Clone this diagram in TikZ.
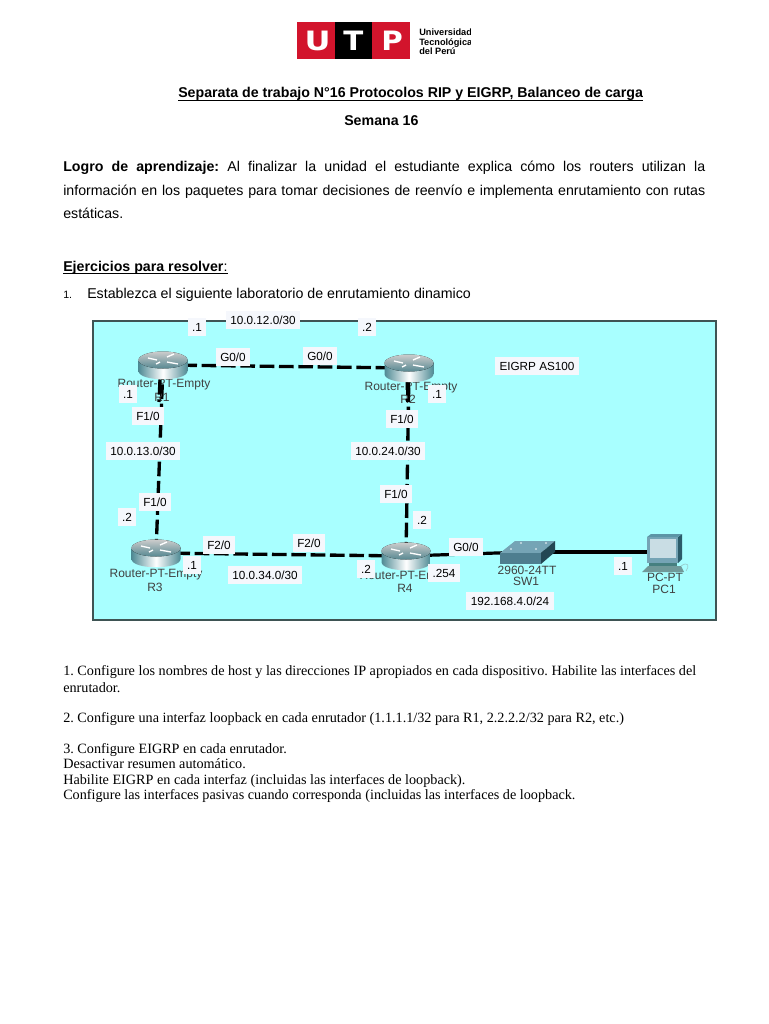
\documentclass[tikz,border=0pt]{standalone}
\usepackage{fontspec}
\setmainfont{Liberation Sans}
\newfontfamily\serifface{Liberation Serif}
\newfontfamily\logoface{DejaVu Sans}
\usetikzlibrary{calc}
\frenchspacing
\definecolor{utpred}{HTML}{D2142C}
\definecolor{aquabg}{HTML}{A8FFFF}
\definecolor{labelbg}{HTML}{F5F7FC}
\definecolor{frame}{HTML}{3E5454}
\definecolor{pcteal}{HTML}{3F8296}
\definecolor{swteal}{HTML}{5C94A8}
\definecolor{routeredge}{HTML}{4F8A94}
\definecolor{pcscreen}{HTML}{C9DDE4}
\tikzset{
 x=0.75pt,y=-0.75pt,
 doctext/.style={anchor=base west,inner sep=0pt,font=\fontsize{10.65}{12}\selectfont},
 boldtext/.style={doctext,font=\bfseries\fontsize{10.65}{12}\selectfont},
 logotext/.style={doctext,font=\bfseries\fontsize{6.9}{8}\selectfont},
 logoletter/.style={text=white,inner sep=0pt,font=\logoface\bfseries\fontsize{20}{20}\selectfont},
 serifline/.style={anchor=base west,inner sep=0pt,font=\serifface\fontsize{10.65}{12}\selectfont},
 netlabel/.style={fill=labelbg,inner sep=0pt,minimum height=13.5pt,minimum width=13.5pt,text depth=0pt,font=\fontsize{8.8}{10}\selectfont,inner xsep=3.3pt},
 devname/.style={inner sep=0pt,text=black!75,font=\fontsize{9}{10}\selectfont},
 dashedlink/.style={line width=2.5pt,black,dash pattern=on 11pt off 3.5pt},
 solidlink/.style={line width=2.4pt,black},
 rulemark/.style={line width=0.6pt,black},
}
\newcommand{\routericon}[1]{%
 \begin{scope}[shift={(#1)}]
  \path[left color=routeredge,right color=routeredge,middle color=white]
    (-24.5,-5) -- (-24.5,6) .. controls (-24.5,17) and (24.5,17) .. (24.5,6) -- (24.5,-5) -- cycle;
  \fill[top color=gray!40!white,bottom color=routeredge!85!gray] (0,-5) ellipse [x radius=24.5,y radius=8.5];
  \draw[white,line width=1pt] (-15,-7)--(-6,-5) (4,-8)--(11,-11) (4,-3)--(15,-1) (-7,-1)--(-3,-3);
 \end{scope}}
\begin{document}
\begin{tikzpicture}
\useasboundingbox (0,0) rectangle (768,1024);
\fill[white] (0,0) rectangle (768,1024);
% logo
\node[fill=utpred,minimum width=85pt,minimum height=27.75pt,inner sep=0pt] (logored) at (353.5,40.5) {};
\node[fill=black,minimum width=27.75pt,minimum height=27.75pt,inner sep=0pt] (logoblack) at (353.5,40.5) {};
\node[logoletter,xscale=1.2] (logoU) at (317.5,40.5) {U};
\node[logoletter,xscale=1.1] (logoT) at (353.5,40.5) {T};
\node[logoletter,xscale=1.1] (logoP) at (392,40.5) {P};
\begin{scope}
 \clip (415,20) rectangle (470,60);
 \node[logotext] (logo1) at (419,35.5) {Universidad};
 \node[logotext] (logo2) at (419,45.5) {Tecnológica};
 \node[logotext] (logo3) at (419,54.5) {del Perú};
\end{scope}
% heading
\node[boldtext] (title) at (178,98) {Separata de trabajo N°16 Protocolos RIP y EIGRP, Balanceo de carga};
\draw[rulemark] ($(title.base west)+(0,2.5)$) -- ($(title.base east)+(0,2.5)$);
\node[boldtext] (week) at (344,125) {Semana 16};
\node[doctext] (p1) at (63,171) {\makebox[481.5pt][s]{\textbf{Logro de aprendizaje:} Al finalizar la unidad el estudiante explica cómo los routers utilizan la}};
\node[doctext] (p2) at (63,195) {\makebox[481.5pt][s]{información en los paquetes para tomar decisiones de reenvío e implementa enrutamiento con rutas}};
\node[doctext] (p3) at (63,218) {estáticas.};
\node[doctext] (ej) at (63,271) {\textbf{Ejercicios para resolver}:};
\draw[rulemark] ($(ej.base west)+(0,2.5)$) -- ($(ej.base east)+(0,2.5)$);
\node[doctext,font=\fontsize{8}{10}\selectfont] (n1) at (63,298) {1.};
\node[doctext] (estab) at (87,298) {Establezca el siguiente laboratorio de enrutamiento dinamico};
% network panel
\node[fill=aquabg,draw=frame,line width=0.8pt,minimum width=467.25pt,minimum height=224.25pt,inner sep=0pt] (panel) at (404.5,470.5) {};
% device anchors
\coordinate (R1) at (163,365);
\coordinate (R2) at (409,368);
\coordinate (R3) at (156,553);
\coordinate (R4) at (406,556);
\coordinate (SW1) at (527,552);
\coordinate (PC1) at (664,552);
% links
\draw[dashedlink] (R1) -- (R2);
\draw[dashedlink] (R1) -- (R3);
\draw[dashedlink] (R2) -- (R4);
\draw[dashedlink] (R3) -- (R4);
\draw[solidlink] (R4) -- (SW1);
\draw[solidlink] (SW1) -- (PC1);
% device names (under the icons)
\node[devname] (r1a) at (164,385) {Router-PT-Empty};
\node[devname] (r1b) at (162,397) {R1};
\node[devname] (r2a) at (411,388) {Router-PT-Empty};
\node[devname] (r2b) at (408,399) {R2};
\node[devname] (r3a) at (156,575) {Router-PT-Empty};
\node[devname] (r3b) at (155,587) {R3};
\node[devname] (r4a) at (406,577) {Router-PT-Empty};
\node[devname] (r4b) at (405,588) {R4};
\node[devname] (swa) at (527,570) {2960-24TT};
\node[devname] (swb) at (526,581) {SW1};
\node[devname] (pca) at (665,577) {PC-PT};
\node[devname] (pcb) at (664,589) {PC1};
% relink over names, as in the picture
\draw[dashedlink] (160,380) -- (159,402);
\draw[dashedlink] (408,380) -- (408,402);
% icons
\routericon{163,365}
\routericon{409,368}
\routericon{156,553}
\routericon{406,556}
% switch
\fill[swteal!85!white] (500,553) -- (515,541) -- (555,541) -- (541,553) -- cycle;
\fill[swteal!85!black] (500,553) rectangle (541,564);
\fill[pcteal!55!black] (541,553) -- (555,541) -- (555,552) -- (541,564) -- cycle;
\fill[white!70!swteal] (511,549) circle (1.2) (521,543) circle (1.2) (546,543) circle (1.2) (536,549) circle (1.2);
% pc
\fill[pcteal!70!black] (678,537) -- (682,534) -- (682,559) -- (678,563) -- cycle;
\fill[pcteal!85!white] (647,537) -- (651,534) -- (682,534) -- (678,537) -- cycle;
\fill[swteal!85!white] (647,537) rectangle (678,563);
\fill[pcscreen] (650,539) rectangle (676,558);
\fill[gray!55!teal] (649,563) rectangle (677,569);
\fill[gray!60!teal!80!white] (642,572) -- (648,566) -- (681,566) -- (684,572) -- cycle;
\draw[white!60!teal,line width=.5pt] (681,566) .. controls (688,561) and (690,566) .. (686,571);
% labels
\node[netlabel] (a1) at (197,327) {.1};
\node[netlabel] (net12) at (263,320) {10.0.12.0/30};
\node[netlabel] (a2) at (367,327) {.2};
\node[netlabel] (g1) at (233,357) {G0/0};
\node[netlabel] (g2) at (320,356) {G0/0};
\node[netlabel] (a3) at (128,394) {.1};
\node[netlabel] (f1) at (148,416) {F1/0};
\node[netlabel] (net13) at (143,451) {10.0.13.0/30};
\node[netlabel] (net24) at (388,451) {10.0.24.0/30};
\node[netlabel] (f2) at (402,419) {F1/0};
\node[netlabel] (a4) at (437,394) {.1};
\node[netlabel] (f3) at (155,502) {F1/0};
\node[netlabel] (a5) at (127,517) {.2};
\node[netlabel] (f4) at (396,494) {F1/0};
\node[netlabel] (a6) at (422,520) {.2};
\node[netlabel] (f5) at (219,545) {F2/0};
\node[netlabel] (f6) at (309,543) {F2/0};
\node[netlabel] (a7) at (192,565) {.1};
\node[netlabel] (net34) at (265,575) {10.0.34.0/30};
\node[netlabel] (a8) at (366,569) {.2};
\node[netlabel] (a9) at (444,573) {.254};
\node[netlabel] (g3) at (466,547) {G0/0};
\node[netlabel] (net4) at (510,601) {192.168.4.0/24};
\node[netlabel] (a10) at (623,566) {.1};
\node[netlabel] (as) at (537,366) {EIGRP AS100};
% instructions
\node[serifline] (s1) at (63,675) {1. Configure los nombres de host y las direcciones IP apropiados en cada dispositivo. Habilite las interfaces del};
\node[serifline] (s2) at (63,692) {enrutador.};
\node[serifline] (s3) at (63,722) {2. Configure una interfaz loopback en cada enrutador (1.1.1.1/32 para R1, 2.2.2.2/32 para R2, etc.)};
\node[serifline] (s4) at (63,753) {3. Configure EIGRP en cada enrutador.};
\node[serifline] (s5) at (63,768) {Desactivar resumen automático.};
\node[serifline] (s6) at (63,784) {Habilite EIGRP en cada interfaz (incluidas las interfaces de loopback).};
\node[serifline] (s7) at (63,799) {Configure las interfaces pasivas cuando corresponda (incluidas las interfaces de loopback.};
\end{tikzpicture}
\end{document}
